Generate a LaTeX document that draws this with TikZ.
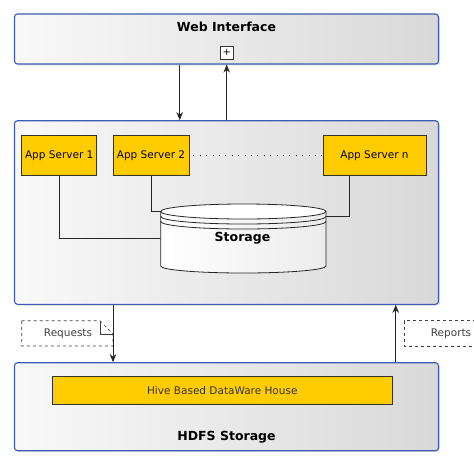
\documentclass[tikz,border=0pt]{standalone}
\usepackage{fontspec}
\setmainfont{DejaVu Sans}
\usetikzlibrary{arrows.meta,shadows,calc}
\definecolor{bordblue}{HTML}{3B5BB5}
\definecolor{srvyellow}{HTML}{FFCC00}
\tikzset{
 panel/.style={draw=bordblue, line width=1.1pt, rounded corners=3pt, left color=gray!5, right color=gray!30,
   drop shadow={opacity=0.2,shadow xshift=1.5pt,shadow yshift=-1.5pt}, inner sep=0},
 server/.style={draw=black!80, line width=0.7pt, fill=srvyellow, inner sep=0, font=\fontsize{10.5}{12}\selectfont},
 title/.style={font=\bfseries\fontsize{12.5}{14}\selectfont},
 arr/.style={line width=0.8pt, draw=black!85, -{Stealth[length=8pt,width=6.5pt]}},
 link/.style={line width=0.8pt, draw=black!85},
 cyl/.style={line width=0.8pt, draw=black!85},
 notebox/.style={draw=black!75, dashed, line width=0.6pt},
 small/.style={font=\fontsize{10.5}{12}\selectfont, text=black!75},
}
\begin{document}
\begin{tikzpicture}[x=1pt,y=-1pt]
\useasboundingbox (0,0) rectangle (474,459);
% panels
\node[panel, minimum width=424pt, minimum height=50pt] (web) at (226.5,39) {};
\node[title] (webt) at (226.5,26.5) {Web Interface};
\node[draw=black!80, fill=white, line width=0.6pt, minimum size=13pt, inner sep=0, font=\fontsize{10}{10}\selectfont] (plus) at (226.7,52.3) {+};
\node[panel, minimum width=424pt, minimum height=183.6pt] (main) at (226.5,212.5) {};
\node[panel, minimum width=424pt, minimum height=88pt] (hdfs) at (226.5,406.7) {};
% servers
\node[server, minimum width=75pt, minimum height=40.7pt] (s1) at (59.2,155.3) {App Server 1};
\node[server, minimum width=76pt, minimum height=40.7pt] (s2) at (151,155.3) {App Server 2};
\node[server, minimum width=103pt, minimum height=40.7pt] (sn) at (374.5,155.3) {App Server n};
\draw[line width=0.9pt, dash pattern=on 1pt off 5.4pt] ([xshift=4pt]s2.east) -- ([xshift=-1pt]sn.west);
% storage
\node[minimum width=165.3pt, minimum height=69pt, inner sep=0] (storage) at (243.35,238.5) {};
\draw[link] (s1.south) |- (storage.west);
\draw[link] (s2.south) |- ($(storage.north west)+(0,8)$);
\draw[link] ([xshift=-25.2pt]sn.south) |- ($(storage.north east)+(0,13)$);
\path[left color=white,right color=gray!15] (160.7,211.5) -- (160.7,266) .. controls (160.7,269.87) and (197.7,273) .. (243.35,273) .. controls (289,273) and (326,269.87) .. (326,266) -- (326,211.5) .. controls (326,207.36) and (289,204) .. (243.35,204) .. controls (197.7,204) and (160.7,207.36) .. cycle;
\draw[cyl] (160.7,211.5) -- (160.7,266) .. controls (160.7,269.87) and (197.7,273) .. (243.35,273) .. controls (289,273) and (326,269.87) .. (326,266) -- (326,211.5);
\draw[cyl, fill=white] (243.35,211.5) ellipse [x radius=82.65, y radius=7.5];
\draw[cyl] (160.7,216.5) .. controls (160.7,220.64) and (197.7,224) .. (243.35,224) .. controls (289,224) and (326,220.64) .. (326,216.5);
\draw[cyl] (160.7,221.5) .. controls (160.7,225.64) and (197.7,229) .. (243.35,229) .. controls (289,229) and (326,225.64) .. (326,221.5);
\node[title] (stt) at (242.5,238) {Storage};
% web arrows
\draw[arr] ([xshift=-46.8pt]web.south) -- ([xshift=-46.8pt]main.north);
\draw[arr] ([xshift=0.2pt]main.north) -- ([xshift=0.2pt]web.south);
% notes
\draw[notebox] (21.7,320.7) -- (100,320.7) -- (113,334) -- (113,346) -- (21.7,346) -- cycle;
\draw[black!75, line width=0.6pt] (100,320.7) -- (100,334) -- (113,334);
\node[small] (req) at (68,333.5) {Requests};
\draw[notebox] (476,320.7) -- (404,320.7) -- (404,346) -- (476,346);
\node[small] (rep) at (451,333.5) {Reports};
\draw[arr] ([xshift=-113.5pt]main.south) -- ([xshift=-113.5pt]hdfs.north);
\draw[arr] ([xshift=169.2pt]hdfs.north) -- ([xshift=169.2pt]main.south);
% hdfs content
\node[server, minimum width=340pt, minimum height=27.3pt, text=black!80] (hive) at (222.3,390.3) {Hive Based DataWare House};
\node[title] (hdfst) at (226.5,437) {HDFS Storage};
\end{tikzpicture}
\end{document}
